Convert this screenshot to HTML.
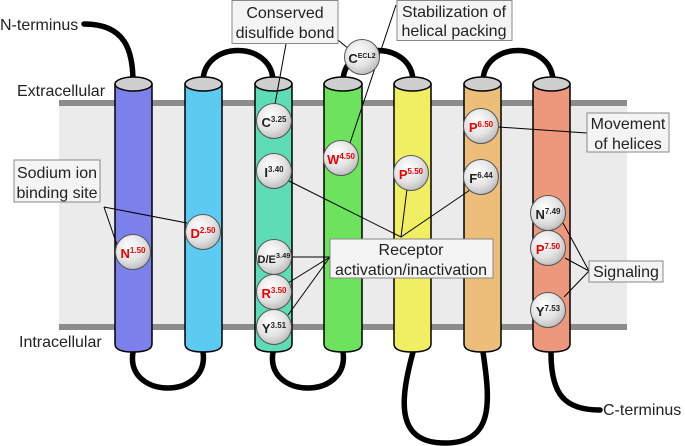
<!DOCTYPE html>
<html><head><meta charset="utf-8"><style>
html,body{margin:0;padding:0;background:#fff;}
svg{display:block;font-family:"Liberation Sans",Arial,sans-serif;}
</style></head><body>
<svg width="685" height="446" viewBox="0 0 685 446" xmlns="http://www.w3.org/2000/svg">
<defs>
<radialGradient id="g" cx="0.4" cy="0.35" r="0.7">
<stop offset="0" stop-color="#ffffff"/><stop offset="0.6" stop-color="#e2e2e2"/><stop offset="1" stop-color="#b8b8b8"/>
</radialGradient>
</defs>
<rect x="59" y="100" width="568" height="229" fill="#ebebeb"/>
<rect x="59" y="100" width="568" height="6" fill="#8c8c8c"/>
<rect x="59" y="324" width="568" height="6" fill="#8c8c8c"/>
<text x="17" y="96" font-size="16" fill="#222">Extracellular</text>
<text x="19" y="347" font-size="16" fill="#222">Intracellular</text>
<text x="0" y="30" font-size="16" fill="#222">N-terminus</text>
<text x="603" y="415" font-size="16" fill="#222">C-terminus</text>
<g fill="none" stroke="#000" stroke-width="5.5" stroke-linecap="round">
<path d="M84,24 C125,24 133,50 133,82"/>
<path d="M203,82 C203,40 273,40 273,82"/>
<path d="M343,82 C343,40 413,40 413,82"/>
<path d="M483,82 C483,40 553,40 553,82"/>
<path d="M133,352 C125,400 210,400 203,352"/>
<path d="M273,352 C265,400 350,400 343,352"/>
<path d="M413,352 C400,400 395,443 445,443 C495,443 490,400 483,352"/>
<path d="M551,353 C551,395 565,410 600,410"/>
</g>
<g stroke="#000" stroke-width="1.5">
<path d="M115,84 V344 Q115,352 133,352 Q152,352 152,344 V84 Z" fill="#7b80ea"/>
<path d="M185,84 V344 Q185,352 203,352 Q222,352 222,344 V84 Z" fill="#5ccbf2"/>
<path d="M255,84 V344 Q255,352 273,352 Q292,352 292,344 V84 Z" fill="#5ddcb5"/>
<path d="M324,84 V344 Q324,352 343,352 Q362,352 362,344 V84 Z" fill="#6de25c"/>
<path d="M394,84 V344 Q394,352 412,352 Q431,352 431,344 V84 Z" fill="#f0ee62"/>
<path d="M464,84 V344 Q464,352 482,352 Q501,352 501,344 V84 Z" fill="#edbd7a"/>
<path d="M533,84 V344 Q533,352 551,352 Q570,352 570,344 V84 Z" fill="#ed977c"/>
<g fill="#cfcfcf">
<ellipse cx="133.5" cy="84" rx="18.5" ry="7"/>
<ellipse cx="203.5" cy="84" rx="18.5" ry="7"/>
<ellipse cx="273.5" cy="84" rx="18.5" ry="7"/>
<ellipse cx="343" cy="84" rx="19" ry="7"/>
<ellipse cx="412.5" cy="84" rx="18.5" ry="7"/>
<ellipse cx="482.5" cy="84" rx="18.5" ry="7"/>
<ellipse cx="551.5" cy="84" rx="18.5" ry="7"/>
</g>
</g>
<g stroke="#000" stroke-width="1" fill="none">
<path d="M286,44 L275,104"/>
<path d="M338,40 L350,50"/>
<path d="M396,5 L350,143"/>
<path d="M104,207 L187,223"/>
<path d="M104,207 L117,245"/>
<path d="M498,127 L587,133"/>
<path d="M287,180 L401,237 L407,189"/>
<path d="M401,237 L470,190"/>
<path d="M290,257 L330,257 L288,283"/>
<path d="M330,257 L288,315"/>
<path d="M563,223 L589,271 L565,258"/>
<path d="M589,271 L564,297"/>
</g>
<g stroke="#555" stroke-width="1" fill="url(#g)">
<circle cx="362" cy="57" r="17.5"/>
<circle cx="274" cy="121" r="17.5"/>
<circle cx="274" cy="171" r="17.5"/>
<circle cx="341" cy="158" r="17.5"/>
<circle cx="411" cy="173" r="17.5"/>
<circle cx="481" cy="126" r="17.5"/>
<circle cx="481" cy="177" r="17.5"/>
<circle cx="133" cy="252" r="17.5"/>
<circle cx="203" cy="232" r="17.5"/>
<circle cx="274" cy="257" r="17.5"/>
<circle cx="274" cy="292" r="17.5"/>
<circle cx="274" cy="327" r="17.5"/>
<circle cx="548" cy="213" r="17.5"/>
<circle cx="548" cy="248" r="17.5"/>
<circle cx="548" cy="310" r="17.5"/>
</g>
<g font-weight="bold" font-size="13" text-anchor="middle">
<text x="362" y="63" fill="#222">C<tspan font-size="7" dy="-5">ECL2</tspan></text>
<text x="274" y="127" fill="#222">C<tspan font-size="8" dy="-5">3.25</tspan></text>
<text x="274" y="177" fill="#222">I<tspan font-size="8" dy="-5">3.40</tspan></text>
<text x="341" y="164" fill="#e00">W<tspan font-size="8" dy="-5">4.50</tspan></text>
<text x="411" y="179" fill="#e00">P<tspan font-size="8" dy="-5">5.50</tspan></text>
<text x="481" y="132" fill="#e00">P<tspan font-size="8" dy="-5">6.50</tspan></text>
<text x="481" y="183" fill="#222">F<tspan font-size="8" dy="-5">6.44</tspan></text>
<text x="133" y="258" fill="#e00">N<tspan font-size="8" dy="-5">1.50</tspan></text>
<text x="203" y="238" fill="#e00">D<tspan font-size="8" dy="-5">2.50</tspan></text>
<text x="274" y="263" fill="#222" font-size="11">D/E<tspan font-size="7.5" dy="-5">3.49</tspan></text>
<text x="274" y="298" fill="#e00">R<tspan font-size="8" dy="-5">3.50</tspan></text>
<text x="274" y="333" fill="#222">Y<tspan font-size="8" dy="-5">3.51</tspan></text>
<text x="548" y="219" fill="#222">N<tspan font-size="8" dy="-5">7.49</tspan></text>
<text x="548" y="254" fill="#e00">P<tspan font-size="8" dy="-5">7.50</tspan></text>
<text x="548" y="316" fill="#222">Y<tspan font-size="8" dy="-5">7.53</tspan></text>
</g>
<g fill="#f4f4f4" stroke="#888" stroke-width="1">
<rect x="232" y="0.5" width="106" height="43"/>
<rect x="397" y="0.5" width="115" height="40"/>
<rect x="14" y="160" width="86" height="42"/>
<rect x="587" y="113" width="82" height="39"/>
<rect x="330" y="239" width="163" height="39"/>
<rect x="589" y="261" width="74" height="21"/>
</g>
<g font-size="16" fill="#222" text-anchor="middle">
<text x="285" y="18">Conserved</text><text x="285" y="38">disulfide bond</text>
<text x="454" y="17">Stabilization of</text><text x="454" y="36">helical packing</text>
<text x="57" y="178">Sodium ion</text><text x="57" y="198">binding site</text>
<text x="628" y="129">Movement</text><text x="628" y="149">of helices</text>
<text x="411" y="255">Receptor</text><text x="411" y="275">activation/inactivation</text>
<text x="626" y="277">Signaling</text>
</g>
</svg>
</body></html>
